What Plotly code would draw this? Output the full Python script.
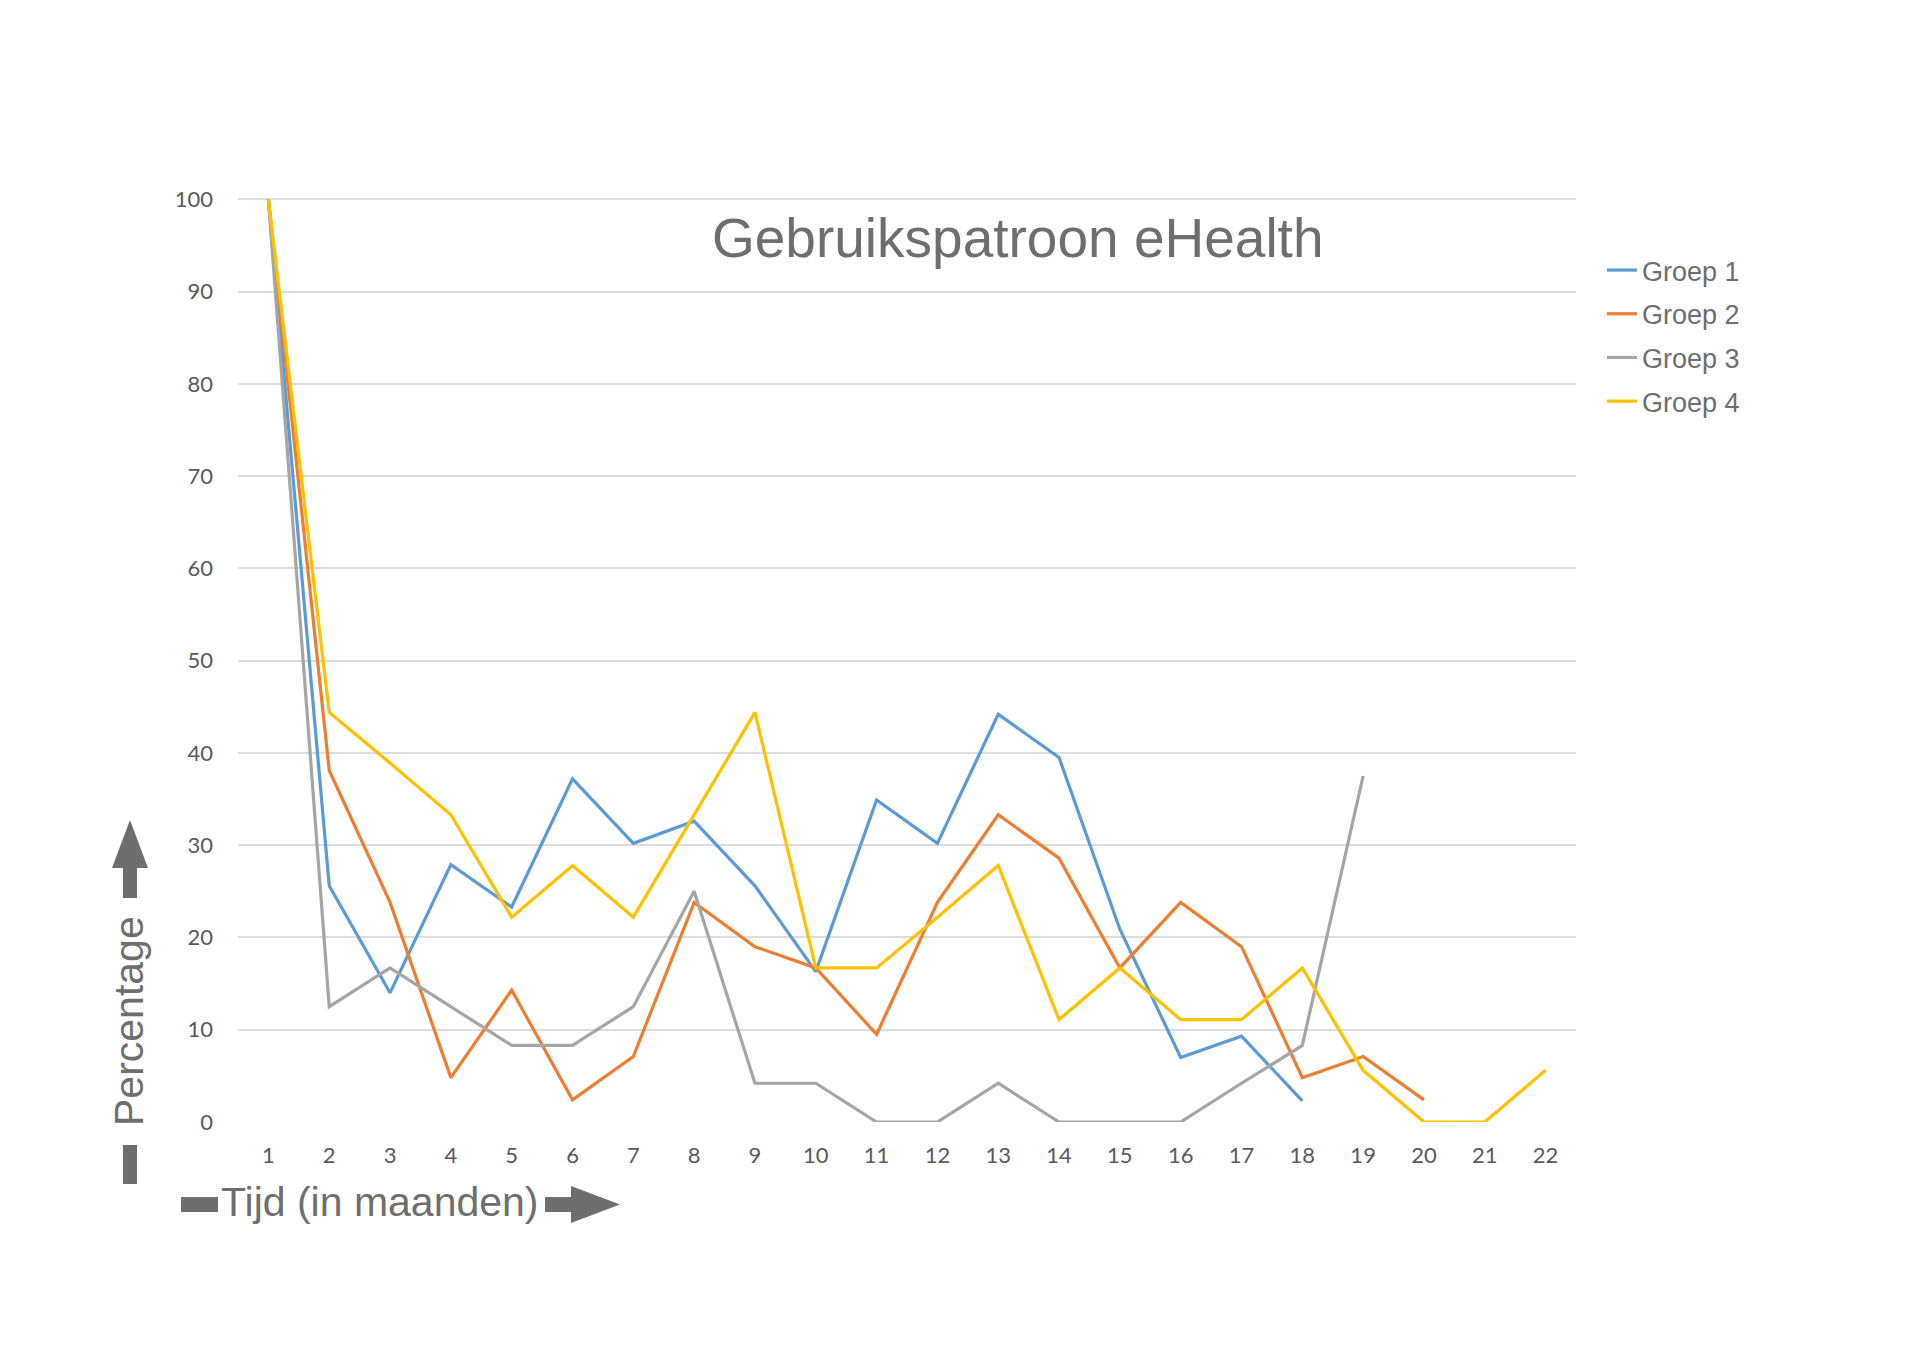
import plotly.graph_objects as go

# ---------------- data ----------------
months = list(range(1, 23))
tick_labels = [str(m) for m in months]
series_names = ["Groep 1", "Groep 2", "Groep 3", "Groep 4"]
groep1 = [100, 25.6, 14.0, 27.9, 23.3, 37.2, 30.2, 32.6, 25.6, 16.3, 34.9, 30.2, 44.2, 39.5, 20.9, 7.0, 9.3, 2.3]
groep2 = [100, 38.1, 23.8, 4.8, 14.3, 2.4, 7.1, 23.8, 19.0, 16.7, 9.5, 23.8, 33.3, 28.6, 16.7, 23.8, 19.0, 4.8, 7.1, 2.4]
groep3 = [100, 12.5, 16.7, 12.5, 8.3, 8.3, 12.5, 25.0, 4.2, 4.2, 0, 0, 4.2, 0, 0, 0, 4.2, 8.3, 37.5]
groep4 = [100, 44.4, 38.9, 33.3, 22.2, 27.8, 22.2, 33.3, 44.4, 16.7, 16.7, 22.2, 27.8, 11.1, 16.7, 11.1, 11.1, 16.7, 5.6, 0, 0, 5.6]
y_ticks = list(range(0, 101, 10))

colors = ["#5B9BD5", "#ED7D31", "#A5A5A5", "#FFC000"]
all_series = [groep1, groep2, groep3, groep4]

W, H = 1920, 1358
ML, MR, MT, MB = 238, 344, 198, 236
PW = W - ML - MR
PH = H - MT - MB


def px(x):
    return (x - ML) / PW


def py(y):
    return (H - MB - y) / PH


fig = go.Figure()
for name, vals, col in zip(series_names, all_series, colors):
    fig.add_trace(go.Scatter(
        x=months[:len(vals)], y=vals, mode="lines", name=name,
        line=dict(color=col, width=3.2), legendgroup=name,
    ))

GRAY = "#6E6E6E"
TICK = "#595959"

fig.update_layout(
    width=W, height=H,
    margin=dict(l=ML, r=MR, t=MT, b=MB, pad=0),
    paper_bgcolor="white", plot_bgcolor="white",
    font=dict(family="Liberation Sans, Arial, sans-serif", color=GRAY),
    showlegend=True,
    legend=dict(
        x=px(1602), y=py(246), xanchor="left", yanchor="top",
        font=dict(size=27, color=GRAY, family="Liberation Sans, Arial, sans-serif"),
        bgcolor="rgba(0,0,0,0)", itemwidth=30, tracegroupgap=5.6,
    ),
    xaxis=dict(
        range=[0.5, 22.5], tickmode="array", tickvals=months, ticktext=tick_labels,
        showgrid=False, zeroline=False, showline=False, ticks="",
        tickfont=dict(family="Lato, sans-serif", size=22, color=TICK),
        ticklabelstandoff=18,
    ),
    yaxis=dict(
        range=[0, 100.15], tickmode="array", tickvals=y_ticks,
        showgrid=True, gridcolor="#DDDDDD", gridwidth=2, zeroline=False, showline=False, ticks="",
        tickfont=dict(family="Lato, sans-serif", size=22, color=TICK),
        ticklabelstandoff=24,
    ),
)

annotations = [
    dict(text="Gebruikspatroon eHealth", x=px(1017), y=py(238), xref="paper", yref="paper",
         xanchor="center", yanchor="middle", showarrow=False,
         font=dict(size=55, color=GRAY, family="Liberation Sans, Arial, sans-serif")),
    dict(text="Percentage", x=px(129), y=py(1021), xref="paper", yref="paper",
         xanchor="center", yanchor="middle", showarrow=False, textangle=-90,
         font=dict(size=41, color=GRAY, family="Liberation Sans, Arial, sans-serif")),
    dict(text="Tijd (in maanden)", x=px(219), y=py(1202), xref="paper", yref="paper",
         xanchor="left", yanchor="middle", showarrow=False,
         font=dict(size=41, color=GRAY, family="Liberation Sans, Arial, sans-serif")),
]
fig.update_layout(annotations=annotations)


def path_from(points):
    s = "M " + " L ".join(f"{px(a):.5f},{py(b):.5f}" for a, b in points) + " Z"
    return s


ARROW = "#6E6E6E"
shapes = [
    # up arrow
    dict(type="path", xref="paper", yref="paper", fillcolor=ARROW, line=dict(width=0),
         path=path_from([(130, 820), (148, 868), (137, 868), (137, 898), (123, 898), (123, 868), (112, 868)])),
    # small bar under "Percentage"
    dict(type="rect", xref="paper", yref="paper", fillcolor=ARROW, line=dict(width=0),
         x0=px(123), x1=px(137), y0=py(1145), y1=py(1184)),
    # small bar left of "Tijd"
    dict(type="rect", xref="paper", yref="paper", fillcolor=ARROW, line=dict(width=0),
         x0=px(181), x1=px(218), y0=py(1197), y1=py(1212)),
    # right arrow
    dict(type="path", xref="paper", yref="paper", fillcolor=ARROW, line=dict(width=0),
         path=path_from([(545, 1197), (571, 1197), (571, 1186), (620, 1204.5), (571, 1223), (571, 1212), (545, 1212)])),
]
fig.update_layout(shapes=shapes)

fig.write_html("out.html")
